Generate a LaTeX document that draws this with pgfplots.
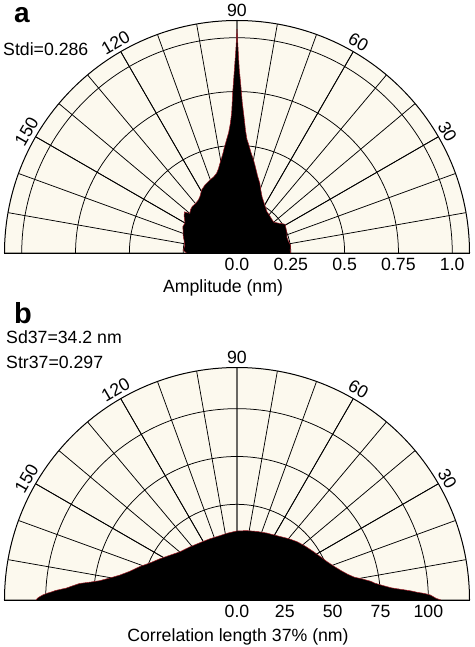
\documentclass[border=0pt]{standalone}
\usepackage{fontspec}
\setmainfont{Liberation Sans}
\usepackage{pgfplots}
\usepackage{pgfplotstable}
\pgfplotsset{compat=1.18}
\usepgfplotslibrary{polar}

\definecolor{paper}{RGB}{252,249,238}
\definecolor{rim}{RGB}{160,30,40}

% angular spectrum: angle (deg), amplitude (nm)
\pgfplotstableread{
ang r
0 0.250
3 0.247
8 0.252
13 0.245
18 0.243
22 0.250
27 0.255
31 0.260
35 0.240
40 0.223
45 0.226
50 0.232
54 0.237
58 0.250
62 0.266
66 0.286
69 0.310
72 0.342
75 0.370
78 0.410
80 0.440
82 0.470
84 0.510
85 0.530
86 0.570
87 0.630
88 0.700
88.7 0.780
89.3 0.855
89.7 0.950
90 1.040
90.3 0.950
90.8 0.855
91.5 0.750
92.2 0.650
93 0.600
94 0.560
95.2 0.530
97 0.490
98 0.468
100.7 0.425
102.5 0.400
104.3 0.383
107 0.370
110.3 0.362
115 0.350
119.3 0.336
123 0.315
126 0.305
130 0.300
134 0.300
137 0.295
140 0.286
142 0.310
145 0.300
150 0.279
154 0.280
158 0.270
163 0.261
168 0.250
172 0.245
177 0.250
180 0.235
}\ampdata

% autocorrelation length at 37 %: angle (deg), length (nm)
\pgfplotstableread{
ang r
0 106.5
0.5 104
1 102.5
1.5 101
2 98
2.5 94
3 91
3.5 87.5
4 84
4.5 81
5 79
6 75.5
7 72.5
8 70.5
9.5 66.5
11 62.5
13 59.5
16 56.3
19 53.8
23 51.2
27 49.3
32 47.4
38 45.5
44 43.8
50 41.9
58 39.6
66 38.3
74 37.3
82 36.6
90 36.1
98 35.3
105 34.8
114 35.0
124 35.8
132 37.2
140 39.1
146 42
152 45.8
157 49.5
161 53.7
165 58
168 62.6
170 67
172 72.5
173 77
174 82.7
175 86
176 89.4
177 95
177.5 97
178 99.5
178.5 101.5
179 103
179.5 104.3
180 105
}\corrdata

\newcommand{\lbl}{\fontsize{17.7}{20}\selectfont}

\pgfplotsset{
  halfrose/.style={
    scale only axis, width=465pt, height=465pt,
    xmin=0, xmax=180, ymin=0,
    clip=false,
    xtick={30,60,...,150},
    minor xtick={0,10,...,180},
    grid=both,
    major grid style={black, line width=0.75pt},
    minor grid style={black, line width=0.75pt},
    axis line style={black, line width=1pt},
    major tick length=0pt, minor tick length=0pt,
    axis background/.style={fill=paper},
    xticklabel style={font=\lbl, rotate=\tick-90, anchor=south, inner sep=4pt},
    yticklabel style={font=\lbl, anchor=north, inner sep=1pt, yshift=-4pt},
    /pgf/number format/assume math mode=true,
    anchor=origin,
  },
}

\begin{document}
\begin{tikzpicture}
\useasboundingbox (0,0) rectangle (474pt,-647pt);

% (a) angular amplitude spectrum
\begin{polaraxis}[halfrose, at={(237pt,-253pt)}, ymax=1.08,
    ytick={0,0.25,0.5,0.75,1.0}, yticklabels={0.0,0.25,0.5,0.75,1.0}]
  \addplot[fill=black, draw=none] table[x=ang, y=r] {\ampdata};
  \addplot[rim, line width=0.5pt] table[x=ang, y=r] {\ampdata};
\end{polaraxis}

% (b) correlation length at 37 %
\begin{polaraxis}[halfrose, at={(237pt,-600pt)}, ymax=121.5,
    ytick={0,25,50,75,100}, yticklabels={0.0,25,50,75,100}]
  \addplot[fill=black, draw=none] table[x=ang, y=r] {\corrdata};
  \addplot[rim, line width=0.5pt] table[x=ang, y=r] {\corrdata};
\end{polaraxis}

\node[anchor=base west, font=\fontsize{28}{30}\selectfont\bfseries, inner sep=0pt] at (14pt,-23pt) {a};
\node[anchor=base west, font=\lbl, inner sep=0pt] at (3pt,-55.5pt) {Stdi=0.286};
\node[anchor=base, font=\lbl, inner sep=0pt] at (223pt,-292pt) {Amplitude (nm)};

\node[anchor=base west, font=\fontsize{29}{30}\selectfont\bfseries, inner sep=0pt] at (14pt,-323pt) {b};
\node[anchor=base west, font=\lbl, inner sep=0pt] at (6pt,-343.5pt) {Sd37=34.2 nm};
\node[anchor=base west, font=\lbl, inner sep=0pt] at (6pt,-368.5pt) {Str37=0.297};
\node[anchor=base, font=\lbl, inner sep=0pt] at (238pt,-641.5pt) {Correlation length 37\% (nm)};
\end{tikzpicture}
\end{document}
